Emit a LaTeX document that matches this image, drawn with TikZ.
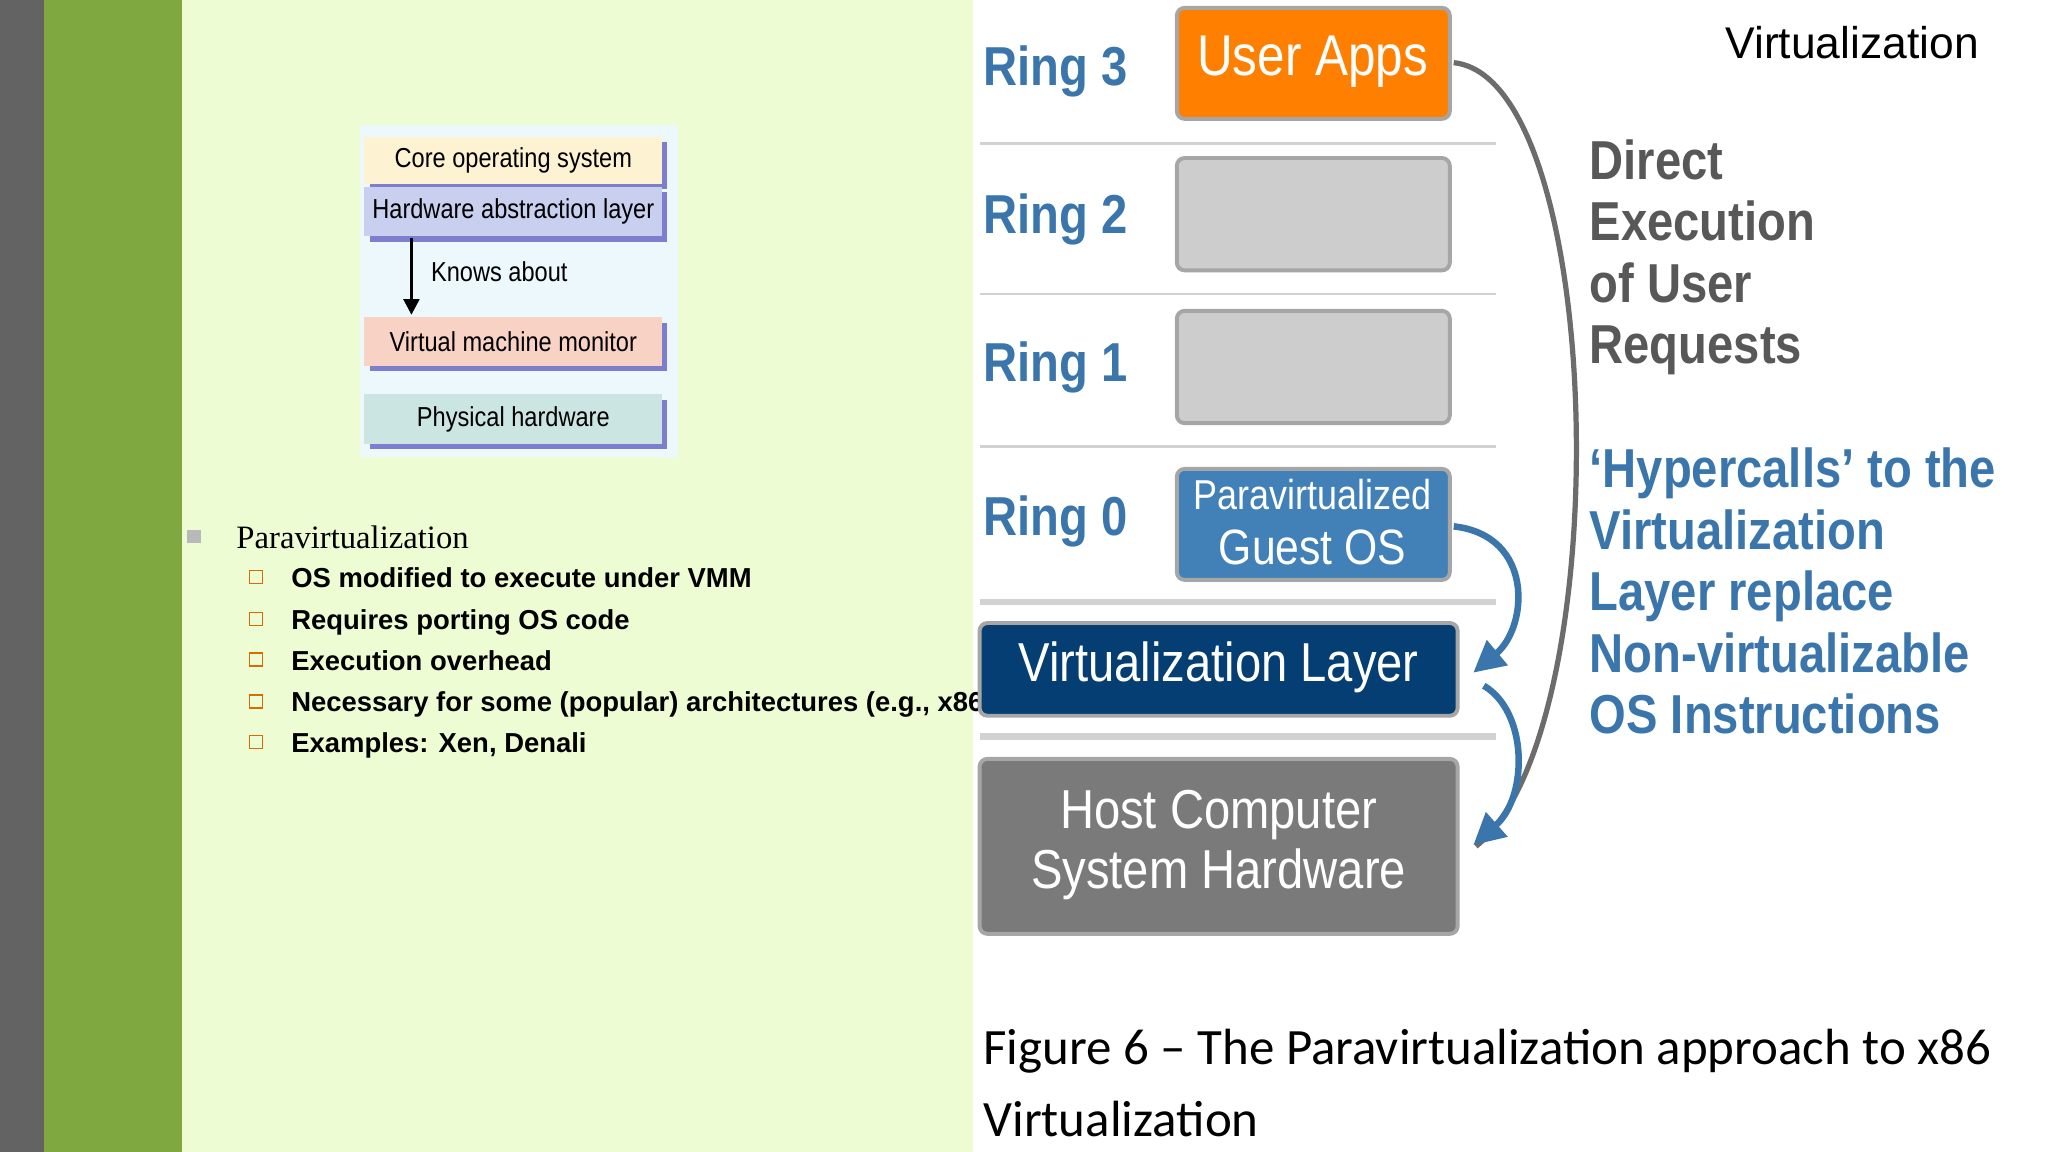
\documentclass[tikz,border=0pt]{standalone}
\usepackage{fontspec}
\setmainfont{Liberation Serif}
\newfontfamily\narrowsans[FakeStretch=0.86]{Liberation Sans}
\newfontfamily\plainsans{Liberation Sans}
\newfontfamily\capfont{Carlito}
\usetikzlibrary{arrows.meta}
\definecolor{ringblue}{HTML}{3A76AB}
\definecolor{guestblue}{HTML}{4280B8}
\definecolor{navy}{HTML}{053E72}
\definecolor{hostgray}{HTML}{7A7A7A}
\definecolor{slotgray}{HTML}{CDCDCD}
\definecolor{appsorange}{HTML}{FF7F00}
\definecolor{pagegreen}{HTML}{EEFCD4}
\definecolor{bargreen}{HTML}{80A840}
\definecolor{bardark}{HTML}{636363}
\definecolor{textgray}{HTML}{585858}
\begin{document}
\begin{tikzpicture}[x=0.5pt,y=-0.5pt,
  ringlbl/.style={anchor=west,text=ringblue,font=\narrowsans\bfseries\fontsize{21}{21}\selectfont},
  slot/.style={draw=gray!70,line width=1.5pt,rounded corners=3pt},
  sep/.style={draw=gray!35,line width=1pt},
  small/.style={draw=none,minimum width=114pt,minimum height=18pt,font=\narrowsans\fontsize{10.5}{11}\selectfont,
    path picture={}},
  item/.style={anchor=base west,font=\plainsans\bfseries\fontsize{10.5}{12}\selectfont},
  box/.style={draw=orange!80!black,line width=0.5pt,minimum size=5pt,inner sep=0pt},
  right/.style={anchor=north west,align=left,font=\narrowsans\bfseries\fontsize{21}{23.5}\selectfont}]
\useasboundingbox (0,0) rectangle (1568,882);
% background
\fill[bardark] (0,0) rectangle (34,882);
\fill[bargreen] (34,0) rectangle (139,882);
\fill[pagegreen] (139,0) rectangle (745,882);
\fill[white] (745,0) rectangle (1568,882);
% small figure
\fill[gray!20!cyan!8] (276,96) rectangle (519,350);
\foreach \t/\b/\c/\n/\s in {105/141/FDF2D2/core/Core operating system,
  143/181/C9CFEE/hal/Hardware abstraction layer,
  243/280/F9D2C6/vmm/Virtual machine monitor,
  302/340/CBE6E2/phys/Physical hardware}{
  \definecolor{tmpc}{HTML}{\c}
  \fill[blue!45!gray!70] (283,\t+4) rectangle (511,\b+4);
  \fill[tmpc] (279,\t) rectangle (507,\b);
  \node[font=\narrowsans\fontsize{10.5}{11}\selectfont] (\n) at (393,{(\t+\b)/2}) {\s};
}
\coordinate (kt) at (315,182);
\coordinate (kb) at (315,241);
\draw[line width=1.2pt,-{Triangle[length=6pt,width=6pt]}] (kt) -- (kb);
\node[anchor=west,font=\narrowsans\fontsize{10.5}{11}\selectfont] (knows) at (323,208) {Knows about};
% bullets
\fill[gray!55] (143,406) rectangle (154,416);
\node[anchor=base west,font=\fontsize{12.5}{14}\selectfont] (para) at (174,420) {Paravirtualization};
\foreach \y/\s in {444/OS modified to execute under VMM,476/Requires porting OS code,507/Execution overhead,
  539/{Necessary for some (popular) architectures (e.g., x86)},570/{Examples: Xen, Denali}}{
  \draw[orange!85!black,line width=0.5pt] (191,\y-7) rectangle (201,\y+3);
  \node[item] at (216,\y+6) {\s};
}
% separators
\foreach \y in {110,225,342}{\draw[sep] (750,\y) -- (1145,\y);}
\draw[gray!35,line width=2.5pt] (750,461) -- (1145,461);
\draw[gray!35,line width=2.5pt] (750,564) -- (1145,564);
% rings
\node[ringlbl] (r3) at (746,55) {Ring 3};
\node[ringlbl] (r2) at (746,168) {Ring 2};
\node[ringlbl] (r1) at (746,281) {Ring 1};
\node[ringlbl] (r0) at (746,399) {Ring 0};
\fill[slot,fill=appsorange] (901,6) rectangle (1110,91);
\node[text=white,font=\narrowsans\fontsize{22}{22}\selectfont] (apps) at (1005,47) {User Apps};
\fill[slot,fill=slotgray] (901,121) rectangle (1110,207);
\fill[slot,fill=slotgray] (901,238) rectangle (1110,324);
\fill[slot,fill=guestblue] (901,359) rectangle (1110,444);
\node[text=white,align=center,font=\narrowsans\fontsize{19}{21}\selectfont] (guest) at (1005,400) {{\fontsize{16}{16}\selectfont Paravirtualized}\\Guest OS};
\fill[slot,fill=navy] (750,477) rectangle (1116,548);
\node[text=white,font=\narrowsans\fontsize{21}{21}\selectfont] (vl) at (933,511) {Virtualization Layer};
\fill[slot,fill=hostgray] (750,581) rectangle (1116,715);
\node[text=white,align=center,font=\narrowsans\fontsize{21}{23}\selectfont] (host) at (933,647) {Host Computer\\System Hardware};
% arcs
\coordinate (a0) at (1113,48);
\coordinate (a1) at (1130,648);
\coordinate (b0) at (1113,403);
\coordinate (b1) at (1128,515);
\coordinate (c0) at (1136,525);
\coordinate (c1) at (1128,647);
\draw[gray!85!black,line width=2pt] (a0) .. controls (1230,60) and (1240,560) .. (a1);
\draw[ringblue,line width=2.5pt,-{Triangle[length=12pt,width=12pt]}] (b0) .. controls (1175,410) and (1170,480) .. (b1);
\draw[ringblue,line width=2.5pt,-{Triangle[length=12pt,width=12pt]}] (c0) .. controls (1170,545) and (1170,610) .. (c1);
% texts
\node[font=\plainsans\fontsize{17}{17}\selectfont] (title) at (1418,33) {Virtualization};
\node[right,text=textgray] (direct) at (1210,100) {Direct\\Execution\\of User\\Requests};
\node[right,text=ringblue] (hyper) at (1210,336) {‘Hypercalls’ to the\\Virtualization\\Layer replace\\Non-virtualizable\\OS Instructions};
\node[anchor=west,font=\capfont\fontsize{19.5}{19.5}\selectfont] (cap1) at (746,805) {Figure 6 – The Paravirtualization approach to x86};
\node[anchor=west,font=\capfont\fontsize{19.5}{19.5}\selectfont] (cap2) at (746,857) {Virtualization};
\end{tikzpicture}
\end{document}
